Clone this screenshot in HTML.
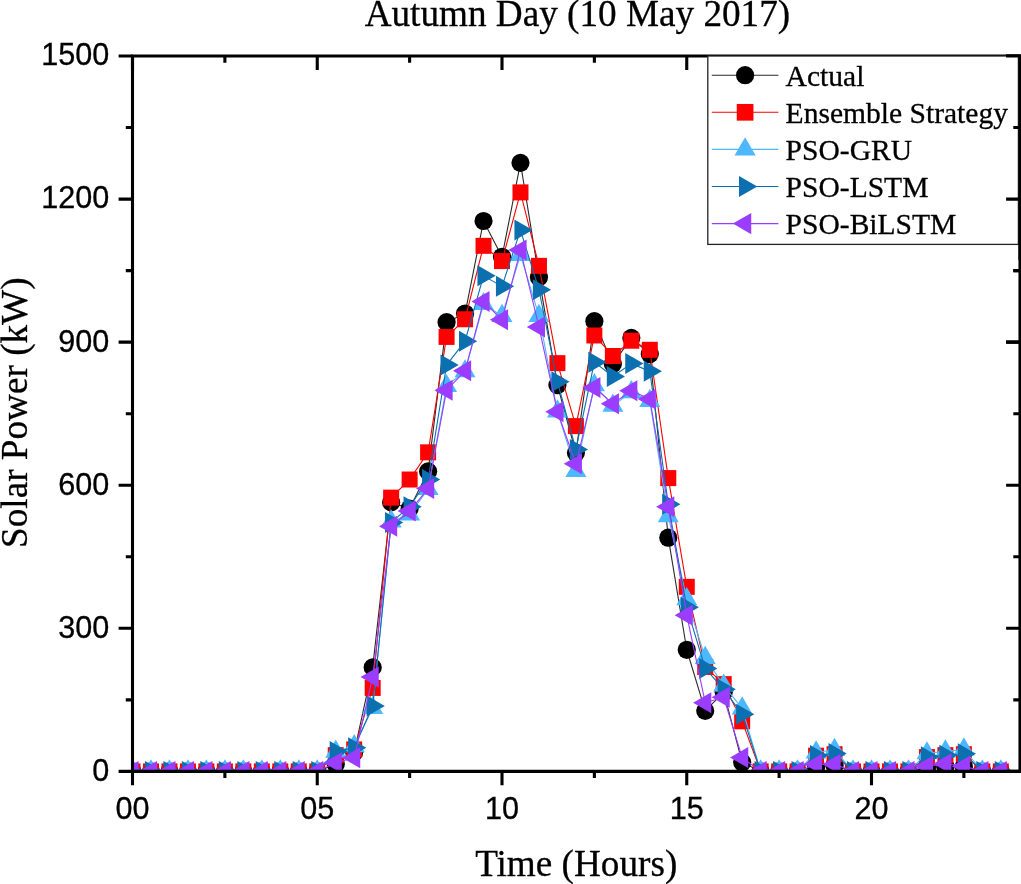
<!DOCTYPE html>
<html lang="en"><head><meta charset="utf-8"><title>Autumn Day (10 May 2017)</title>
<style>html,body{margin:0;padding:0;background:#fff;}svg{display:block;}</style></head>
<body>
<svg width="1021" height="884" viewBox="0 0 1021 884">
<rect width="1021" height="884" fill="#fff"/>
<defs><clipPath id="pa"><rect x="134" y="57.5" width="884.5" height="712.4"/></clipPath></defs>
<g clip-path="url(#pa)">
<polyline points="132.5,771.4 150.97,771.4 169.45,771.4 187.93,771.4 206.4,771.4 224.88,771.4 243.35,771.4 261.83,771.4 280.3,771.4 298.77,771.4 317.25,771.4 335.73,764.25 354.2,752.32 372.68,667.43 391.15,502.41 409.62,508.61 428.1,471.41 446.58,322.13 465.05,313.54 483.53,221.02 502,256.79 520.48,162.83 538.95,277.3 557.42,385.08 575.9,452.81 594.38,321.17 612.85,364.1 631.33,337.87 649.8,354.08 668.28,537.7 686.75,649.78 705.23,710.83 723.7,692.23 742.18,762.34 760.65,771.4 779.12,771.4 797.6,771.4 816.08,766.63 834.55,765.2 853.03,771.4 871.5,771.4 889.98,771.4 908.45,771.4 926.93,767.58 945.4,766.63 963.88,766.63 982.35,771.4 1000.83,771.4" fill="none" stroke="#2a2a2a" stroke-width="1.1" stroke-linejoin="round"/>
<circle cx="132.5" cy="771.4" r="9.1" fill="#000000"/>
<circle cx="150.97" cy="771.4" r="9.1" fill="#000000"/>
<circle cx="169.45" cy="771.4" r="9.1" fill="#000000"/>
<circle cx="187.93" cy="771.4" r="9.1" fill="#000000"/>
<circle cx="206.4" cy="771.4" r="9.1" fill="#000000"/>
<circle cx="224.88" cy="771.4" r="9.1" fill="#000000"/>
<circle cx="243.35" cy="771.4" r="9.1" fill="#000000"/>
<circle cx="261.83" cy="771.4" r="9.1" fill="#000000"/>
<circle cx="280.3" cy="771.4" r="9.1" fill="#000000"/>
<circle cx="298.77" cy="771.4" r="9.1" fill="#000000"/>
<circle cx="317.25" cy="771.4" r="9.1" fill="#000000"/>
<circle cx="335.73" cy="764.25" r="9.1" fill="#000000"/>
<circle cx="354.2" cy="752.32" r="9.1" fill="#000000"/>
<circle cx="372.68" cy="667.43" r="9.1" fill="#000000"/>
<circle cx="391.15" cy="502.41" r="9.1" fill="#000000"/>
<circle cx="409.62" cy="508.61" r="9.1" fill="#000000"/>
<circle cx="428.1" cy="471.41" r="9.1" fill="#000000"/>
<circle cx="446.58" cy="322.13" r="9.1" fill="#000000"/>
<circle cx="465.05" cy="313.54" r="9.1" fill="#000000"/>
<circle cx="483.53" cy="221.02" r="9.1" fill="#000000"/>
<circle cx="502" cy="256.79" r="9.1" fill="#000000"/>
<circle cx="520.48" cy="162.83" r="9.1" fill="#000000"/>
<circle cx="538.95" cy="277.3" r="9.1" fill="#000000"/>
<circle cx="557.42" cy="385.08" r="9.1" fill="#000000"/>
<circle cx="575.9" cy="452.81" r="9.1" fill="#000000"/>
<circle cx="594.38" cy="321.17" r="9.1" fill="#000000"/>
<circle cx="612.85" cy="364.1" r="9.1" fill="#000000"/>
<circle cx="631.33" cy="337.87" r="9.1" fill="#000000"/>
<circle cx="649.8" cy="354.08" r="9.1" fill="#000000"/>
<circle cx="668.28" cy="537.7" r="9.1" fill="#000000"/>
<circle cx="686.75" cy="649.78" r="9.1" fill="#000000"/>
<circle cx="705.23" cy="710.83" r="9.1" fill="#000000"/>
<circle cx="723.7" cy="692.23" r="9.1" fill="#000000"/>
<circle cx="742.18" cy="762.34" r="9.1" fill="#000000"/>
<circle cx="760.65" cy="771.4" r="9.1" fill="#000000"/>
<circle cx="779.12" cy="771.4" r="9.1" fill="#000000"/>
<circle cx="797.6" cy="771.4" r="9.1" fill="#000000"/>
<circle cx="816.08" cy="766.63" r="9.1" fill="#000000"/>
<circle cx="834.55" cy="765.2" r="9.1" fill="#000000"/>
<circle cx="853.03" cy="771.4" r="9.1" fill="#000000"/>
<circle cx="871.5" cy="771.4" r="9.1" fill="#000000"/>
<circle cx="889.98" cy="771.4" r="9.1" fill="#000000"/>
<circle cx="908.45" cy="771.4" r="9.1" fill="#000000"/>
<circle cx="926.93" cy="767.58" r="9.1" fill="#000000"/>
<circle cx="945.4" cy="766.63" r="9.1" fill="#000000"/>
<circle cx="963.88" cy="766.63" r="9.1" fill="#000000"/>
<circle cx="982.35" cy="771.4" r="9.1" fill="#000000"/>
<circle cx="1000.83" cy="771.4" r="9.1" fill="#000000"/>
<polyline points="132.5,771.4 150.97,771.4 169.45,771.4 187.93,771.4 206.4,771.4 224.88,771.4 243.35,771.4 261.83,771.4 280.3,771.4 298.77,771.4 317.25,771.4 335.73,755.18 354.2,749.46 372.68,687.94 391.15,497.64 409.62,479.52 428.1,452.33 446.58,336.91 465.05,319.27 483.53,245.82 502,261.08 520.48,192.4 538.95,265.85 557.42,363.15 575.9,426.1 594.38,335.48 612.85,355.99 631.33,340.73 649.8,349.79 668.28,478.09 686.75,586.83 705.23,666.95 723.7,684.12 742.18,721.32 760.65,771.4 779.12,771.4 797.6,771.4 816.08,755.66 834.55,754.23 853.03,771.4 871.5,771.4 889.98,771.4 908.45,771.4 926.93,757.09 945.4,755.18 963.88,754.23 982.35,771.4 1000.83,771.4" fill="none" stroke="#ff0000" stroke-width="1.1" stroke-linejoin="round"/>
<rect x="124.5" y="763.4" width="16" height="16" fill="#ff0000"/>
<rect x="142.97" y="763.4" width="16" height="16" fill="#ff0000"/>
<rect x="161.45" y="763.4" width="16" height="16" fill="#ff0000"/>
<rect x="179.93" y="763.4" width="16" height="16" fill="#ff0000"/>
<rect x="198.4" y="763.4" width="16" height="16" fill="#ff0000"/>
<rect x="216.88" y="763.4" width="16" height="16" fill="#ff0000"/>
<rect x="235.35" y="763.4" width="16" height="16" fill="#ff0000"/>
<rect x="253.83" y="763.4" width="16" height="16" fill="#ff0000"/>
<rect x="272.3" y="763.4" width="16" height="16" fill="#ff0000"/>
<rect x="290.77" y="763.4" width="16" height="16" fill="#ff0000"/>
<rect x="309.25" y="763.4" width="16" height="16" fill="#ff0000"/>
<rect x="327.73" y="747.18" width="16" height="16" fill="#ff0000"/>
<rect x="346.2" y="741.46" width="16" height="16" fill="#ff0000"/>
<rect x="364.68" y="679.94" width="16" height="16" fill="#ff0000"/>
<rect x="383.15" y="489.64" width="16" height="16" fill="#ff0000"/>
<rect x="401.62" y="471.52" width="16" height="16" fill="#ff0000"/>
<rect x="420.1" y="444.33" width="16" height="16" fill="#ff0000"/>
<rect x="438.58" y="328.91" width="16" height="16" fill="#ff0000"/>
<rect x="457.05" y="311.27" width="16" height="16" fill="#ff0000"/>
<rect x="475.53" y="237.82" width="16" height="16" fill="#ff0000"/>
<rect x="494" y="253.08" width="16" height="16" fill="#ff0000"/>
<rect x="512.48" y="184.4" width="16" height="16" fill="#ff0000"/>
<rect x="530.95" y="257.85" width="16" height="16" fill="#ff0000"/>
<rect x="549.42" y="355.15" width="16" height="16" fill="#ff0000"/>
<rect x="567.9" y="418.1" width="16" height="16" fill="#ff0000"/>
<rect x="586.38" y="327.48" width="16" height="16" fill="#ff0000"/>
<rect x="604.85" y="347.99" width="16" height="16" fill="#ff0000"/>
<rect x="623.33" y="332.73" width="16" height="16" fill="#ff0000"/>
<rect x="641.8" y="341.79" width="16" height="16" fill="#ff0000"/>
<rect x="660.28" y="470.09" width="16" height="16" fill="#ff0000"/>
<rect x="678.75" y="578.83" width="16" height="16" fill="#ff0000"/>
<rect x="697.23" y="658.95" width="16" height="16" fill="#ff0000"/>
<rect x="715.7" y="676.12" width="16" height="16" fill="#ff0000"/>
<rect x="734.18" y="713.32" width="16" height="16" fill="#ff0000"/>
<rect x="752.65" y="763.4" width="16" height="16" fill="#ff0000"/>
<rect x="771.12" y="763.4" width="16" height="16" fill="#ff0000"/>
<rect x="789.6" y="763.4" width="16" height="16" fill="#ff0000"/>
<rect x="808.08" y="747.66" width="16" height="16" fill="#ff0000"/>
<rect x="826.55" y="746.23" width="16" height="16" fill="#ff0000"/>
<rect x="845.03" y="763.4" width="16" height="16" fill="#ff0000"/>
<rect x="863.5" y="763.4" width="16" height="16" fill="#ff0000"/>
<rect x="881.98" y="763.4" width="16" height="16" fill="#ff0000"/>
<rect x="900.45" y="763.4" width="16" height="16" fill="#ff0000"/>
<rect x="918.93" y="749.09" width="16" height="16" fill="#ff0000"/>
<rect x="937.4" y="747.18" width="16" height="16" fill="#ff0000"/>
<rect x="955.88" y="746.23" width="16" height="16" fill="#ff0000"/>
<rect x="974.35" y="763.4" width="16" height="16" fill="#ff0000"/>
<rect x="992.83" y="763.4" width="16" height="16" fill="#ff0000"/>
<polyline points="132.5,771.4 150.97,771.4 169.45,771.4 187.93,771.4 206.4,771.4 224.88,771.4 243.35,771.4 261.83,771.4 280.3,771.4 298.77,771.4 317.25,771.4 335.73,751.61 354.2,746.12 372.68,707.97 391.15,521.49 409.62,514.33 428.1,489.06 446.58,386.04 465.05,371.25 483.53,304.01 502,315.93 520.48,254.88 538.95,315.93 557.42,411.32 575.9,470.93 594.38,385.08 612.85,405.59 631.33,392.24 649.8,400.82 668.28,516.24 686.75,599.23 705.23,657.89 723.7,685.55 742.18,708.44 760.65,771.4 779.12,771.4 797.6,771.4 816.08,752.32 834.55,749.94 853.03,771.4 871.5,771.4 889.98,771.4 908.45,771.4 926.93,753.28 945.4,751.37 963.88,749.46 982.35,771.4 1000.83,771.4" fill="none" stroke="#4db8ff" stroke-width="1.1" stroke-linejoin="round"/>
<polygon points="132.5,759.28 122,777.46 143,777.46" fill="#4db8ff"/>
<polygon points="150.97,759.28 140.47,777.46 161.47,777.46" fill="#4db8ff"/>
<polygon points="169.45,759.28 158.95,777.46 179.95,777.46" fill="#4db8ff"/>
<polygon points="187.93,759.28 177.43,777.46 198.43,777.46" fill="#4db8ff"/>
<polygon points="206.4,759.28 195.9,777.46 216.9,777.46" fill="#4db8ff"/>
<polygon points="224.88,759.28 214.38,777.46 235.38,777.46" fill="#4db8ff"/>
<polygon points="243.35,759.28 232.85,777.46 253.85,777.46" fill="#4db8ff"/>
<polygon points="261.83,759.28 251.33,777.46 272.33,777.46" fill="#4db8ff"/>
<polygon points="280.3,759.28 269.8,777.46 290.8,777.46" fill="#4db8ff"/>
<polygon points="298.77,759.28 288.27,777.46 309.27,777.46" fill="#4db8ff"/>
<polygon points="317.25,759.28 306.75,777.46 327.75,777.46" fill="#4db8ff"/>
<polygon points="335.73,739.48 325.23,757.67 346.23,757.67" fill="#4db8ff"/>
<polygon points="354.2,734 343.7,752.18 364.7,752.18" fill="#4db8ff"/>
<polygon points="372.68,695.84 362.18,714.03 383.18,714.03" fill="#4db8ff"/>
<polygon points="391.15,509.36 380.65,527.55 401.65,527.55" fill="#4db8ff"/>
<polygon points="409.62,502.21 399.12,520.4 420.12,520.4" fill="#4db8ff"/>
<polygon points="428.1,476.93 417.6,495.12 438.6,495.12" fill="#4db8ff"/>
<polygon points="446.58,373.91 436.08,392.1 457.08,392.1" fill="#4db8ff"/>
<polygon points="465.05,359.13 454.55,377.32 475.55,377.32" fill="#4db8ff"/>
<polygon points="483.53,291.88 473.03,310.07 494.03,310.07" fill="#4db8ff"/>
<polygon points="502,303.8 491.5,321.99 512.5,321.99" fill="#4db8ff"/>
<polygon points="520.48,242.76 509.98,260.94 530.98,260.94" fill="#4db8ff"/>
<polygon points="538.95,303.8 528.45,321.99 549.45,321.99" fill="#4db8ff"/>
<polygon points="557.42,399.19 546.92,417.38 567.92,417.38" fill="#4db8ff"/>
<polygon points="575.9,458.81 565.4,476.99 586.4,476.99" fill="#4db8ff"/>
<polygon points="594.38,372.96 583.88,391.15 604.88,391.15" fill="#4db8ff"/>
<polygon points="612.85,393.47 602.35,411.65 623.35,411.65" fill="#4db8ff"/>
<polygon points="631.33,380.11 620.83,398.3 641.83,398.3" fill="#4db8ff"/>
<polygon points="649.8,388.7 639.3,406.88 660.3,406.88" fill="#4db8ff"/>
<polygon points="668.28,504.12 657.78,522.3 678.78,522.3" fill="#4db8ff"/>
<polygon points="686.75,587.1 676.25,605.29 697.25,605.29" fill="#4db8ff"/>
<polygon points="705.23,645.77 694.73,663.95 715.73,663.95" fill="#4db8ff"/>
<polygon points="723.7,673.43 713.2,691.61 734.2,691.61" fill="#4db8ff"/>
<polygon points="742.18,696.32 731.68,714.51 752.68,714.51" fill="#4db8ff"/>
<polygon points="760.65,759.28 750.15,777.46 771.15,777.46" fill="#4db8ff"/>
<polygon points="779.12,759.28 768.62,777.46 789.62,777.46" fill="#4db8ff"/>
<polygon points="797.6,759.28 787.1,777.46 808.1,777.46" fill="#4db8ff"/>
<polygon points="816.08,740.2 805.58,758.38 826.58,758.38" fill="#4db8ff"/>
<polygon points="834.55,737.81 824.05,756 845.05,756" fill="#4db8ff"/>
<polygon points="853.03,759.28 842.53,777.46 863.53,777.46" fill="#4db8ff"/>
<polygon points="871.5,759.28 861,777.46 882,777.46" fill="#4db8ff"/>
<polygon points="889.98,759.28 879.48,777.46 900.48,777.46" fill="#4db8ff"/>
<polygon points="908.45,759.28 897.95,777.46 918.95,777.46" fill="#4db8ff"/>
<polygon points="926.93,741.15 916.43,759.34 937.43,759.34" fill="#4db8ff"/>
<polygon points="945.4,739.24 934.9,757.43 955.9,757.43" fill="#4db8ff"/>
<polygon points="963.88,737.34 953.38,755.52 974.38,755.52" fill="#4db8ff"/>
<polygon points="982.35,759.28 971.85,777.46 992.85,777.46" fill="#4db8ff"/>
<polygon points="1000.83,759.28 990.33,777.46 1011.33,777.46" fill="#4db8ff"/>
<polyline points="132.5,771.4 150.97,771.4 169.45,771.4 187.93,771.4 206.4,771.4 224.88,771.4 243.35,771.4 261.83,771.4 280.3,771.4 298.77,771.4 317.25,771.4 335.73,751.61 354.2,747.79 372.68,706.06 391.15,522.44 409.62,506.7 428.1,479.52 446.58,365.05 465.05,341.21 483.53,275.87 502,286.36 520.48,230.08 538.95,289.7 557.42,381.75 575.9,449.47 594.38,362.19 612.85,376.5 631.33,363.62 649.8,371.25 668.28,504.32 686.75,607.33 705.23,668.38 723.7,689.37 742.18,714.17 760.65,771.4 779.12,771.4 797.6,771.4 816.08,755.42 834.55,753.51 853.03,771.4 871.5,771.4 889.98,771.4 908.45,771.4 926.93,756.85 945.4,755.18 963.88,753.75 982.35,771.4 1000.83,771.4" fill="none" stroke="#0b6fb0" stroke-width="1.1" stroke-linejoin="round"/>
<polygon points="144.62,771.4 126.44,760.9 126.44,781.9" fill="#0b6fb0"/>
<polygon points="163.1,771.4 144.91,760.9 144.91,781.9" fill="#0b6fb0"/>
<polygon points="181.57,771.4 163.39,760.9 163.39,781.9" fill="#0b6fb0"/>
<polygon points="200.05,771.4 181.86,760.9 181.86,781.9" fill="#0b6fb0"/>
<polygon points="218.52,771.4 200.34,760.9 200.34,781.9" fill="#0b6fb0"/>
<polygon points="237,771.4 218.81,760.9 218.81,781.9" fill="#0b6fb0"/>
<polygon points="255.47,771.4 237.29,760.9 237.29,781.9" fill="#0b6fb0"/>
<polygon points="273.95,771.4 255.76,760.9 255.76,781.9" fill="#0b6fb0"/>
<polygon points="292.42,771.4 274.24,760.9 274.24,781.9" fill="#0b6fb0"/>
<polygon points="310.9,771.4 292.71,760.9 292.71,781.9" fill="#0b6fb0"/>
<polygon points="329.37,771.4 311.19,760.9 311.19,781.9" fill="#0b6fb0"/>
<polygon points="347.85,751.61 329.66,741.11 329.66,762.11" fill="#0b6fb0"/>
<polygon points="366.32,747.79 348.14,737.29 348.14,758.29" fill="#0b6fb0"/>
<polygon points="384.8,706.06 366.61,695.56 366.61,716.56" fill="#0b6fb0"/>
<polygon points="403.27,522.44 385.09,511.94 385.09,532.94" fill="#0b6fb0"/>
<polygon points="421.75,506.7 403.56,496.2 403.56,517.2" fill="#0b6fb0"/>
<polygon points="440.22,479.52 422.04,469.02 422.04,490.02" fill="#0b6fb0"/>
<polygon points="458.7,365.05 440.51,354.55 440.51,375.55" fill="#0b6fb0"/>
<polygon points="477.17,341.21 458.99,330.71 458.99,351.71" fill="#0b6fb0"/>
<polygon points="495.65,275.87 477.46,265.37 477.46,286.37" fill="#0b6fb0"/>
<polygon points="514.12,286.36 495.94,275.86 495.94,296.86" fill="#0b6fb0"/>
<polygon points="532.6,230.08 514.41,219.58 514.41,240.58" fill="#0b6fb0"/>
<polygon points="551.07,289.7 532.89,279.2 532.89,300.2" fill="#0b6fb0"/>
<polygon points="569.55,381.75 551.36,371.25 551.36,392.25" fill="#0b6fb0"/>
<polygon points="588.02,449.47 569.84,438.97 569.84,459.97" fill="#0b6fb0"/>
<polygon points="606.5,362.19 588.31,351.69 588.31,372.69" fill="#0b6fb0"/>
<polygon points="624.97,376.5 606.79,366 606.79,387" fill="#0b6fb0"/>
<polygon points="643.45,363.62 625.26,353.12 625.26,374.12" fill="#0b6fb0"/>
<polygon points="661.92,371.25 643.74,360.75 643.74,381.75" fill="#0b6fb0"/>
<polygon points="680.4,504.32 662.21,493.82 662.21,514.82" fill="#0b6fb0"/>
<polygon points="698.87,607.33 680.69,596.83 680.69,617.83" fill="#0b6fb0"/>
<polygon points="717.35,668.38 699.16,657.88 699.16,678.88" fill="#0b6fb0"/>
<polygon points="735.82,689.37 717.64,678.87 717.64,699.87" fill="#0b6fb0"/>
<polygon points="754.3,714.17 736.11,703.67 736.11,724.67" fill="#0b6fb0"/>
<polygon points="772.77,771.4 754.59,760.9 754.59,781.9" fill="#0b6fb0"/>
<polygon points="791.25,771.4 773.06,760.9 773.06,781.9" fill="#0b6fb0"/>
<polygon points="809.72,771.4 791.54,760.9 791.54,781.9" fill="#0b6fb0"/>
<polygon points="828.2,755.42 810.01,744.92 810.01,765.92" fill="#0b6fb0"/>
<polygon points="846.67,753.51 828.49,743.01 828.49,764.01" fill="#0b6fb0"/>
<polygon points="865.15,771.4 846.96,760.9 846.96,781.9" fill="#0b6fb0"/>
<polygon points="883.62,771.4 865.44,760.9 865.44,781.9" fill="#0b6fb0"/>
<polygon points="902.1,771.4 883.91,760.9 883.91,781.9" fill="#0b6fb0"/>
<polygon points="920.57,771.4 902.39,760.9 902.39,781.9" fill="#0b6fb0"/>
<polygon points="939.05,756.85 920.86,746.35 920.86,767.35" fill="#0b6fb0"/>
<polygon points="957.52,755.18 939.34,744.68 939.34,765.68" fill="#0b6fb0"/>
<polygon points="976,753.75 957.81,743.25 957.81,764.25" fill="#0b6fb0"/>
<polygon points="994.47,771.4 976.29,760.9 976.29,781.9" fill="#0b6fb0"/>
<polygon points="1012.95,771.4 994.76,760.9 994.76,781.9" fill="#0b6fb0"/>
<polyline points="132.5,771.4 150.97,771.4 169.45,771.4 187.93,771.4 206.4,771.4 224.88,771.4 243.35,771.4 261.83,771.4 280.3,771.4 298.77,771.4 317.25,771.4 335.73,762.82 354.2,757.81 372.68,676.97 391.15,526.26 409.62,510.99 428.1,488.58 446.58,390.33 465.05,370.78 483.53,301.62 502,319.74 520.48,250.11 538.95,326.9 557.42,411.79 575.9,463.78 594.38,387.47 612.85,403.68 631.33,390.81 649.8,398.92 668.28,506.7 686.75,615.2 705.23,702.72 723.7,697.24 742.18,757.57 760.65,771.4 779.12,771.4 797.6,771.4 816.08,764.25 834.55,764.25 853.03,771.4 871.5,771.4 889.98,771.4 908.45,771.4 926.93,766.15 945.4,763.77 963.88,766.15 982.35,771.4 1000.83,771.4" fill="none" stroke="#9b3dff" stroke-width="1.1" stroke-linejoin="round"/>
<polygon points="120.38,771.4 138.56,760.9 138.56,781.9" fill="#9b3dff"/>
<polygon points="138.85,771.4 157.04,760.9 157.04,781.9" fill="#9b3dff"/>
<polygon points="157.33,771.4 175.51,760.9 175.51,781.9" fill="#9b3dff"/>
<polygon points="175.8,771.4 193.99,760.9 193.99,781.9" fill="#9b3dff"/>
<polygon points="194.28,771.4 212.46,760.9 212.46,781.9" fill="#9b3dff"/>
<polygon points="212.75,771.4 230.94,760.9 230.94,781.9" fill="#9b3dff"/>
<polygon points="231.23,771.4 249.41,760.9 249.41,781.9" fill="#9b3dff"/>
<polygon points="249.7,771.4 267.89,760.9 267.89,781.9" fill="#9b3dff"/>
<polygon points="268.18,771.4 286.36,760.9 286.36,781.9" fill="#9b3dff"/>
<polygon points="286.65,771.4 304.84,760.9 304.84,781.9" fill="#9b3dff"/>
<polygon points="305.13,771.4 323.31,760.9 323.31,781.9" fill="#9b3dff"/>
<polygon points="323.6,762.82 341.79,752.32 341.79,773.32" fill="#9b3dff"/>
<polygon points="342.08,757.81 360.26,747.31 360.26,768.31" fill="#9b3dff"/>
<polygon points="360.55,676.97 378.74,666.47 378.74,687.47" fill="#9b3dff"/>
<polygon points="379.03,526.26 397.21,515.76 397.21,536.76" fill="#9b3dff"/>
<polygon points="397.5,510.99 415.69,500.49 415.69,521.49" fill="#9b3dff"/>
<polygon points="415.98,488.58 434.16,478.08 434.16,499.08" fill="#9b3dff"/>
<polygon points="434.45,390.33 452.64,379.83 452.64,400.83" fill="#9b3dff"/>
<polygon points="452.93,370.78 471.11,360.28 471.11,381.28" fill="#9b3dff"/>
<polygon points="471.4,301.62 489.59,291.12 489.59,312.12" fill="#9b3dff"/>
<polygon points="489.88,319.74 508.06,309.24 508.06,330.24" fill="#9b3dff"/>
<polygon points="508.35,250.11 526.54,239.61 526.54,260.61" fill="#9b3dff"/>
<polygon points="526.83,326.9 545.01,316.4 545.01,337.4" fill="#9b3dff"/>
<polygon points="545.3,411.79 563.49,401.29 563.49,422.29" fill="#9b3dff"/>
<polygon points="563.78,463.78 581.96,453.28 581.96,474.28" fill="#9b3dff"/>
<polygon points="582.25,387.47 600.44,376.97 600.44,397.97" fill="#9b3dff"/>
<polygon points="600.73,403.68 618.91,393.18 618.91,414.18" fill="#9b3dff"/>
<polygon points="619.2,390.81 637.39,380.31 637.39,401.31" fill="#9b3dff"/>
<polygon points="637.68,398.92 655.86,388.42 655.86,409.42" fill="#9b3dff"/>
<polygon points="656.15,506.7 674.34,496.2 674.34,517.2" fill="#9b3dff"/>
<polygon points="674.63,615.2 692.81,604.7 692.81,625.7" fill="#9b3dff"/>
<polygon points="693.1,702.72 711.29,692.22 711.29,713.22" fill="#9b3dff"/>
<polygon points="711.58,697.24 729.76,686.74 729.76,707.74" fill="#9b3dff"/>
<polygon points="730.05,757.57 748.24,747.07 748.24,768.07" fill="#9b3dff"/>
<polygon points="748.53,771.4 766.71,760.9 766.71,781.9" fill="#9b3dff"/>
<polygon points="767,771.4 785.19,760.9 785.19,781.9" fill="#9b3dff"/>
<polygon points="785.48,771.4 803.66,760.9 803.66,781.9" fill="#9b3dff"/>
<polygon points="803.95,764.25 822.14,753.75 822.14,774.75" fill="#9b3dff"/>
<polygon points="822.43,764.25 840.61,753.75 840.61,774.75" fill="#9b3dff"/>
<polygon points="840.9,771.4 859.09,760.9 859.09,781.9" fill="#9b3dff"/>
<polygon points="859.38,771.4 877.56,760.9 877.56,781.9" fill="#9b3dff"/>
<polygon points="877.85,771.4 896.04,760.9 896.04,781.9" fill="#9b3dff"/>
<polygon points="896.33,771.4 914.51,760.9 914.51,781.9" fill="#9b3dff"/>
<polygon points="914.8,766.15 932.99,755.65 932.99,776.65" fill="#9b3dff"/>
<polygon points="933.28,763.77 951.46,753.27 951.46,774.27" fill="#9b3dff"/>
<polygon points="951.75,766.15 969.94,755.65 969.94,776.65" fill="#9b3dff"/>
<polygon points="970.23,771.4 988.41,760.9 988.41,781.9" fill="#9b3dff"/>
<polygon points="988.7,771.4 1006.89,760.9 1006.89,781.9" fill="#9b3dff"/>
</g>
<g stroke="#000" stroke-width="3.1" fill="none" stroke-linecap="butt">
<path d="M132.5 54.45 V772.9499999999999 M1020.0 54.45 V772.9499999999999 M130.95 56.0 H1021.55 M130.95 771.4 H1021.55"/>
<path d="M118.6 771.4 H132.5 M1006.1 771.4 H1020.0 M125.8 699.86 H132.5 M1013.3 699.86 H1020.0 M118.6 628.32 H132.5 M1006.1 628.32 H1020.0 M125.8 556.78 H132.5 M1013.3 556.78 H1020.0 M118.6 485.24 H132.5 M1006.1 485.24 H1020.0 M125.8 413.7 H132.5 M1013.3 413.7 H1020.0 M118.6 342.16 H132.5 M1006.1 342.16 H1020.0 M125.8 270.62 H132.5 M1013.3 270.62 H1020.0 M118.6 199.08 H132.5 M1006.1 199.08 H1020.0 M125.8 127.54 H132.5 M1013.3 127.54 H1020.0 M118.6 56 H132.5 M1006.1 56 H1020.0 M132.5 771.4 V785.3 M132.5 56 V69.9 M224.88 771.4 V778.1 M224.88 56 V62.7 M317.25 771.4 V785.3 M317.25 56 V69.9 M409.62 771.4 V778.1 M409.62 56 V62.7 M502 771.4 V785.3 M502 56 V69.9 M594.38 771.4 V778.1 M594.38 56 V62.7 M686.75 771.4 V785.3 M686.75 56 V69.9 M779.12 771.4 V778.1 M779.12 56 V62.7 M871.5 771.4 V785.3 M871.5 56 V69.9 M963.88 771.4 V778.1 M963.88 56 V62.7 "/>
</g>
<rect x="707.8" y="56.0" width="310.6" height="188.4" fill="#fff" stroke="#222" stroke-width="1.3"/>
<path d="M1006.1 342.16 H1020.0 M1013.3 270.62 H1020.0 M1006.1 199.08 H1020.0 M1013.3 127.54 H1020.0 M1006.1 56 H1020.0  M1020.0 54.45 V260" stroke="#000" stroke-width="3.1" fill="none"/>
<line x1="711.8" x2="778.4" y1="75.2" y2="75.2" stroke="#2a2a2a" stroke-width="1.1"/>
<circle cx="745.1" cy="75.2" r="9.1" fill="#000000"/>
<text x="785.6" y="85.6" font-family="'Liberation Serif', serif" font-size="29.55" stroke="#000" stroke-width="0.3">Actual</text>
<line x1="711.8" x2="778.4" y1="112.3" y2="112.3" stroke="#ff0000" stroke-width="1.1"/>
<rect x="736.75" y="103.95" width="16.7" height="16.7" fill="#ff0000"/>
<text x="785.6" y="122.7" font-family="'Liberation Serif', serif" font-size="29.55" stroke="#000" stroke-width="0.3">Ensemble Strategy</text>
<line x1="711.8" x2="778.4" y1="149.4" y2="149.4" stroke="#4db8ff" stroke-width="1.1"/>
<polygon points="745.1,137.16 734.5,155.52 755.7,155.52" fill="#4db8ff"/>
<text x="785.6" y="159.8" font-family="'Liberation Serif', serif" font-size="29.55" stroke="#000" stroke-width="0.3">PSO-GRU</text>
<line x1="711.8" x2="778.4" y1="186.5" y2="186.5" stroke="#0b6fb0" stroke-width="1.1"/>
<polygon points="757.34,186.5 738.98,175.9 738.98,197.1" fill="#0b6fb0"/>
<text x="785.6" y="196.9" font-family="'Liberation Serif', serif" font-size="29.55" stroke="#000" stroke-width="0.3">PSO-LSTM</text>
<line x1="711.8" x2="778.4" y1="223.6" y2="223.6" stroke="#9b3dff" stroke-width="1.1"/>
<polygon points="732.86,223.6 751.22,213 751.22,234.2" fill="#9b3dff"/>
<text x="785.6" y="234" font-family="'Liberation Serif', serif" font-size="29.55" stroke="#000" stroke-width="0.3">PSO-BiLSTM</text>
<g font-family="'Liberation Sans', sans-serif" font-size="30.6" fill="#000" stroke="#000" stroke-width="0.3">
<text x="109.2" y="780.8" text-anchor="end">0</text>
<text x="109.2" y="637.72" text-anchor="end">300</text>
<text x="109.2" y="494.64" text-anchor="end">600</text>
<text x="109.2" y="351.56" text-anchor="end">900</text>
<text x="109.2" y="208.48" text-anchor="end">1200</text>
<text x="109.2" y="65.4" text-anchor="end">1500</text>
<text x="132.5" y="819.2" text-anchor="middle">00</text>
<text x="317.25" y="819.2" text-anchor="middle">05</text>
<text x="502" y="819.2" text-anchor="middle">10</text>
<text x="686.75" y="819.2" text-anchor="middle">15</text>
<text x="871.5" y="819.2" text-anchor="middle">20</text>
</g>
<g font-family="'Liberation Serif', serif" font-size="37.2" fill="#000" stroke="#000" stroke-width="0.3">
<text x="577.4" y="25.5" text-anchor="middle">Autumn Day (10 May 2017)</text>
<text x="576.2" y="875.8" text-anchor="middle">Time (Hours)</text>
<text transform="translate(26.5 412.7) rotate(-90)" text-anchor="middle">Solar Power (kW)</text>
</g>
</svg>
</body></html>
